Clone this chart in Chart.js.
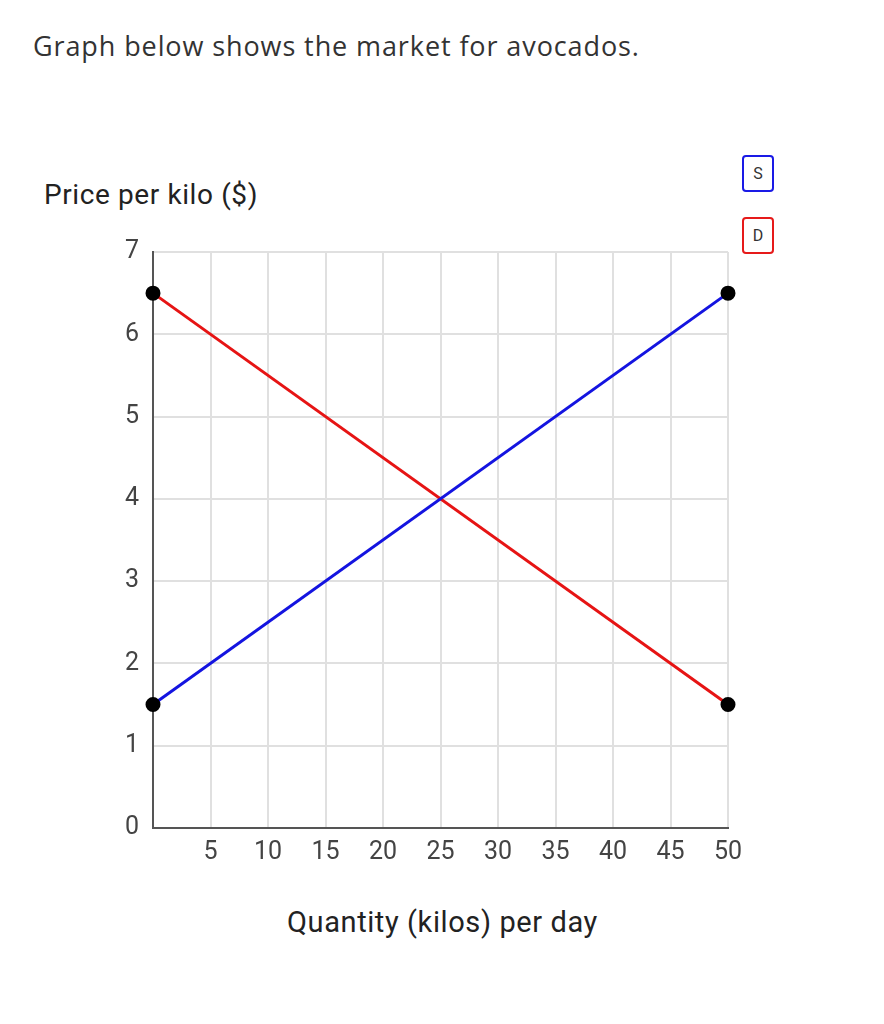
<!DOCTYPE html>
<html><head><meta charset="utf-8">
<script src="https://cdn.jsdelivr.net/npm/chart.js@4"></script>
<style>
body{margin:0;width:884px;height:1024px;background:#fff;font-family:Roboto,sans-serif;position:relative;overflow:hidden}
#wrap{position:absolute;left:0;top:0;width:884px;height:1024px}
.t{position:absolute;white-space:nowrap}
.box{position:absolute;width:28px;height:33px;border:2px solid;border-radius:4px;font-size:16px;text-align:center;line-height:33px;color:#333}
</style></head><body>
<div class="t" style="left:33px;top:27px;font-size:27px;letter-spacing:0.9px;color:#333;font-family:'Open Sans',sans-serif">Graph below shows the market for avocados.</div>
<div class="t" style="left:44px;top:178px;font-size:28px;letter-spacing:0.6px;color:#222">Price per kilo ($)</div>
<div class="t" style="left:287px;top:905px;font-size:29px;letter-spacing:0.6px;color:#222">Quantity (kilos) per day</div>
<div class="box" style="left:742px;top:155px;border-color:#1a1ae6">S</div>
<div class="box" style="left:742px;top:217px;border-color:#e61a1a">D</div>
<div id="wrap"><canvas id="c"></canvas></div>
<script>
// market data
const quantities = [0, 50];
const supplyPrices = [1.5, 6.5];
const demandPrices = [6.5, 1.5];
const xTicks = [0, 5, 10, 15, 20, 25, 30, 35, 40, 45, 50];
const yTicks = [0, 1, 2, 3, 4, 5, 6, 7];

const toPoints = (xs, ys) => xs.map((x, i) => ({ x, y: ys[i] }));

new Chart(document.getElementById("c"), {
    type: "line",
    data: {
        datasets: [
            { label: "S", data: toPoints(quantities, supplyPrices), borderColor: "#1414e0", borderWidth: 3, clip: false,
              pointBackgroundColor: "#000", pointBorderColor: "#000", pointRadius: 6 },
            { label: "D", data: toPoints(quantities, demandPrices), borderColor: "#e61414", borderWidth: 3, clip: false,
              pointBackgroundColor: "#000", pointBorderColor: "#000", pointRadius: 6 }
        ]
    },
    options: {
        responsive: true,
        maintainAspectRatio: false,
        animation: false,
        layout: { padding: { left: 0, right: 156, top: 252, bottom: 136 } },
        plugins: { legend: { display: false }, tooltip: { enabled: false } },
        scales: {
            x: {
                type: "linear", min: 0, max: 50,
                afterBuildTicks: s => { s.ticks = xTicks.map(v => ({ value: v })); },
                afterFit: s => { s.height = 60; },
                grid: { color: "#e0e0e0", lineWidth: 2, drawTicks: false },
                border: { color: "#555", width: 2 },
                ticks: { color: "#444", font: { size: 25, family: "Roboto" }, padding: 10,
                         callback: v => v === 0 ? "" : v }
            },
            y: {
                min: 0, max: 7,
                afterBuildTicks: s => { s.ticks = yTicks.map(v => ({ value: v })); },
                afterFit: s => { s.width = 153; },
                grid: { color: "#e0e0e0", lineWidth: 2, drawTicks: false },
                border: { color: "#555", width: 2 },
                ticks: { color: "#444", font: { size: 25, family: "Roboto" }, padding: 14 }
            }
        }
    }
});
</script>
</body></html>
